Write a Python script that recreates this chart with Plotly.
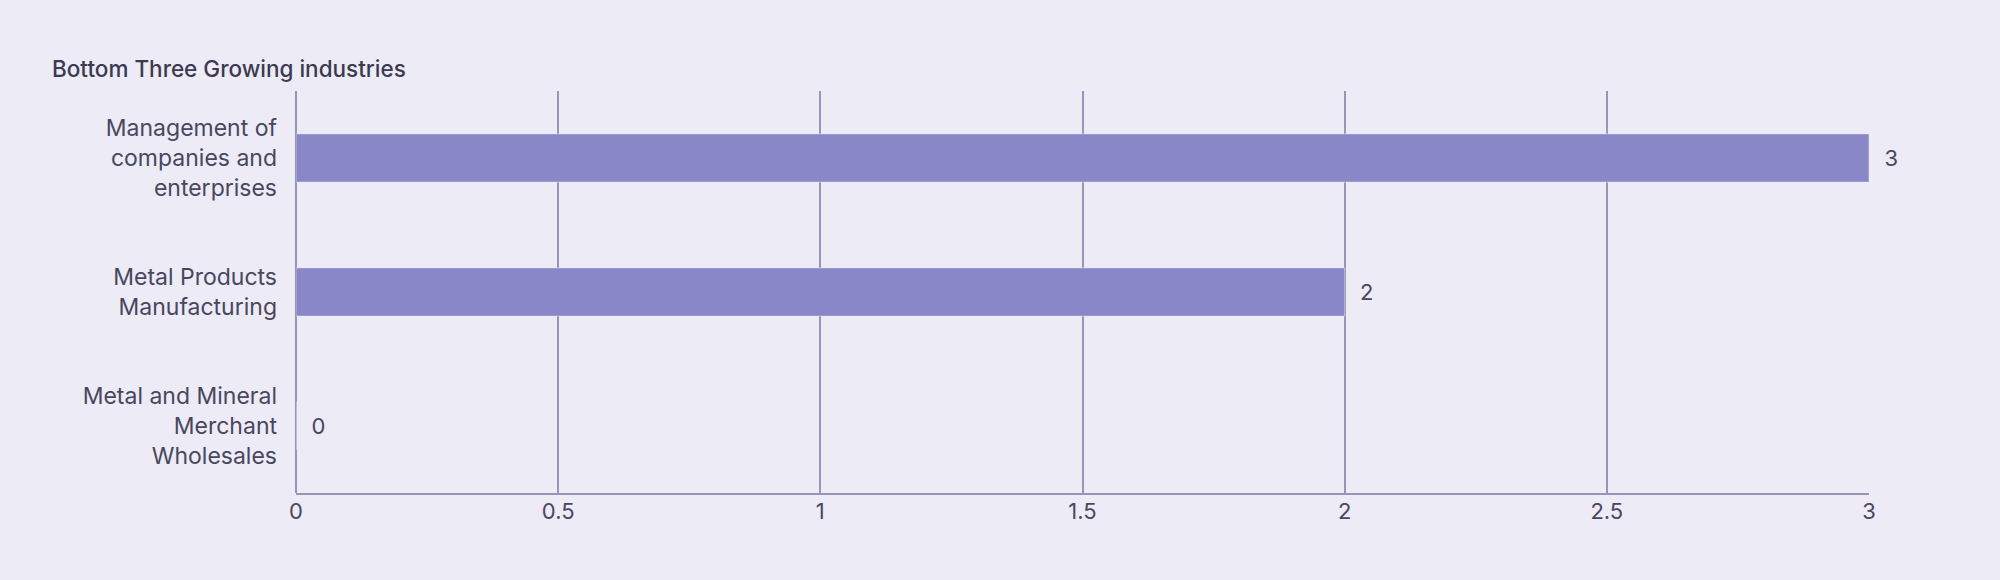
import plotly.graph_objects as go

# Данные
industries = [
    "Management of<br>companies and<br>enterprises",
    "Metal Products<br>Manufacturing",
    "Metal and Mineral<br>Merchant<br>Wholesales",
]
growth = [3, 2, 0]
x_ticks = [0, 0.5, 1, 1.5, 2, 2.5, 3]
x_tick_labels = ["0", "0.5", "1", "1.5", "2", "2.5", "3"]

bg = "rgb(236,235,246)"
bar_color = "rgb(138,135,200)"
grid_color = "rgb(152,150,184)"
text_color = "rgb(72,71,94)"

fig = go.Figure()

fig.add_trace(go.Bar(
    x=growth,
    y=industries,
    orientation="h",
    marker=dict(color=bar_color),
    # небольшой отступ подписи от конца столбца
    text=["\u00a0\u00a0" + str(v) for v in growth],
    textposition="outside",
    textfont=dict(size=22, color=text_color),
    cliponaxis=False,
))

fig.update_layout(
    width=2000, height=580,
    paper_bgcolor=bg,
    plot_bgcolor=bg,
    font=dict(family="Inter", size=22, color=text_color),
    margin=dict(l=296, r=131, t=91, b=87),
    bargap=0.64,
    showlegend=False,
    title=dict(
        text="Bottom Three Growing industries",
        x=52 / 2000, xanchor="left", xref="container",
        y=1 - 69 / 580, yanchor="middle", yref="container",
        font=dict(size=22.5, color="rgb(60,58,80)", weight=500),
    ),
)

fig.update_xaxes(
    range=[0, 3],
    tickvals=x_ticks,
    ticktext=x_tick_labels,
    showgrid=True, gridcolor=grid_color, gridwidth=1.5,
    zeroline=True, zerolinecolor=grid_color, zerolinewidth=1.5,
    showline=True, linecolor=grid_color, linewidth=2,
    ticks="", ticklabelstandoff=-2,
    tickfont=dict(size=22, color=text_color),
)

fig.update_yaxes(
    autorange="reversed",
    showgrid=False,
    ticks="", ticklabelstandoff=18,
    tickfont=dict(size=23, color=text_color),
)

# убираем белую рамку страницы
fig.write_html("out.html", config={"displayModeBar": False},
               post_script="document.body.style.margin='0';")
